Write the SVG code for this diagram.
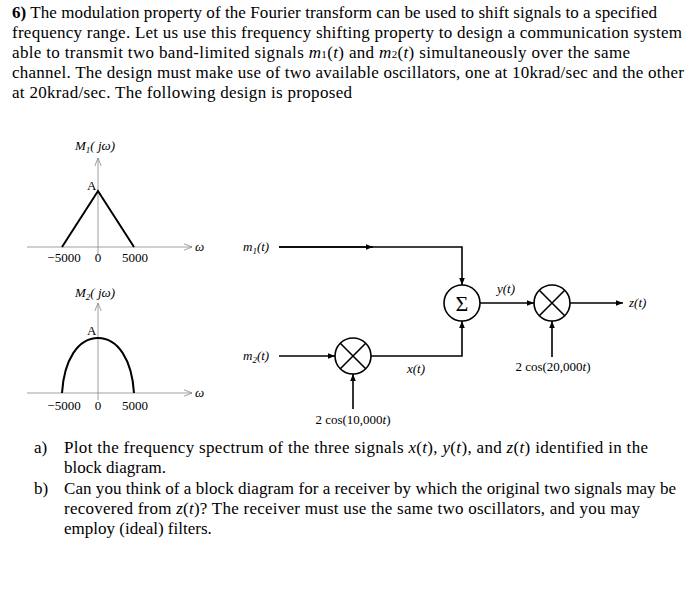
<svg xmlns="http://www.w3.org/2000/svg" width="700" height="597" viewBox="0 0 700 597">
<style>
text{font-family:"Liberation Serif","Times New Roman",Times,serif;fill:#000}
.t{font-size:17px}
.s{font-size:13px}
.i{font-style:italic}
.ln{stroke:#000;stroke-width:1.6;fill:none}
.ax{stroke:#888;stroke-width:0.8;fill:none}
.cv{stroke:#000;stroke-width:2;fill:none}
</style>
<defs>
<marker id="a" viewBox="0 0 10 10" refX="10" refY="5" markerWidth="7" markerHeight="7" orient="auto" markerUnits="userSpaceOnUse"><path d="M0,1L10,5L0,9z" fill="#000"/></marker>
<marker id="o" viewBox="0 0 10 10" refX="10" refY="5" markerWidth="8" markerHeight="8" orient="auto" markerUnits="userSpaceOnUse"><path d="M0,1L10,5L0,9" fill="none" stroke="#888"/></marker>
</defs>
<rect width="700" height="597" fill="#fff"/>
<g id="question">
<text class="t" x="12" y="18" textLength="645"><tspan font-weight="bold">6)</tspan> The modulation property of the Fourier transform can be used to shift signals to a specified</text>
<text class="t" x="12" y="38" textLength="670">frequency range.  Let us use this frequency shifting property to design a communication system</text>
<text class="t" x="12" y="58" textLength="618">able to transmit two band-limited signals <tspan class="i">m</tspan><tspan font-size="11">1</tspan>(<tspan class="i">t</tspan>) and <tspan class="i">m</tspan><tspan font-size="11">2</tspan>(<tspan class="i">t</tspan>) simultaneously over the same</text>
<text class="t" x="12" y="78" textLength="672">channel.   The design must make use of two available oscillators, one at 10krad/sec and the other</text>
<text class="t" x="12" y="98" textLength="340">at 20krad/sec.   The following design is proposed</text>
</g>
<g id="plot1">
<line class="ax" x1="27" y1="247" x2="192" y2="247" marker-end="url(#o)"/>
<line class="ax" x1="98" y1="256" x2="98" y2="158" marker-end="url(#o)"/>
<polyline class="cv" points="62,247 98,191 134,247"/>
<text class="s i" x="75" y="150">M<tspan font-size="9" dy="3">1</tspan><tspan dy="-3">( jω)</tspan></text>
<text class="s" x="87" y="190">A</text>
<text class="s" x="195" y="251" font-style="italic">ω</text>
<text class="s" x="64" y="262" text-anchor="middle">−5000</text>
<text class="s" x="98" y="262" text-anchor="middle">0</text>
<text class="s" x="135" y="262" text-anchor="middle">5000</text>
</g>
<g id="plot2">
<line class="ax" x1="27" y1="393" x2="192" y2="393" marker-end="url(#o)"/>
<line class="ax" x1="98" y1="400" x2="98" y2="303" marker-end="url(#o)"/>
<path class="cv" d="M62,393 C64,360 78,338 98,338 C118,338 132,360 134,393"/>
<text class="s i" x="75" y="297">M<tspan font-size="9" dy="3">2</tspan><tspan dy="-3">( jω)</tspan></text>
<text class="s" x="87" y="335">A</text>
<text class="s" x="195" y="397" font-style="italic">ω</text>
<text class="s" x="64" y="410" text-anchor="middle">−5000</text>
<text class="s" x="98" y="410" text-anchor="middle">0</text>
<text class="s" x="135" y="410" text-anchor="middle">5000</text>
</g>
<g id="sum"><circle class="ln" cx="462" cy="303" r="18"/><text x="462" y="311" font-size="22" text-anchor="middle">Σ</text></g>
<g id="mult1"><circle class="ln" cx="353" cy="356" r="18"/><path class="ln" d="M340.3,343.3L365.7,368.7M365.7,343.3L340.3,368.7"/></g>
<g id="mult2"><circle class="ln" cx="552" cy="303" r="18"/><path class="ln" d="M539.3,290.3L564.7,315.7M564.7,290.3L539.3,315.7"/></g>
<g id="labels">
<text class="s i" x="243" y="251">m<tspan font-size="9" dy="3">1</tspan><tspan dy="-3">(t)</tspan></text>
<text class="s i" x="243" y="360">m<tspan font-size="9" dy="3">2</tspan><tspan dy="-3">(t)</tspan></text>
<text class="s i" x="416" y="373" text-anchor="middle">x(t)</text>
<text class="s i" x="506" y="293" text-anchor="middle">y(t)</text>
<text class="s i" x="629" y="307">z(t)</text>
<text class="s" x="553" y="371" text-anchor="middle">2 cos(20,000<tspan font-style="italic">t</tspan>)</text>
<text class="s" x="353" y="424" text-anchor="middle">2 cos(10,000<tspan font-style="italic">t</tspan>)</text>
</g>
<g id="connectors">
<path class="ln" d="M279,247H462V285" marker-end="url(#a)"/>
<path class="ln" d="M279,247H373" marker-end="url(#a)"/>
<path class="ln" d="M279,356H335" marker-end="url(#a)"/>
<path class="ln" d="M371,356H462V321" marker-end="url(#a)"/>
<path class="ln" d="M480,303H534" marker-end="url(#a)"/>
<path class="ln" d="M570,303H623" marker-end="url(#a)"/>
<path class="ln" d="M552,357V321" marker-end="url(#a)"/>
<path class="ln" d="M353,409V374" marker-end="url(#a)"/>
</g>
<g id="parts">
<text class="t" x="34" y="453">a)</text>
<text class="t" x="64" y="453" textLength="584">Plot the frequency spectrum of the three signals <tspan class="i">x</tspan>(<tspan class="i">t</tspan>), <tspan class="i">y</tspan>(<tspan class="i">t</tspan>), and <tspan class="i">z</tspan>(<tspan class="i">t</tspan>) identified in the</text>
<text class="t" x="64" y="473">block diagram.</text>
<text class="t" x="34" y="494">b)</text>
<text class="t" x="64" y="494" textLength="612">Can you think of a block diagram for a receiver by which the original two signals may be</text>
<text class="t" x="64" y="514" textLength="576">recovered from <tspan class="i">z</tspan>(<tspan class="i">t</tspan>)?   The receiver must use the same two oscillators, and you may</text>
<text class="t" x="64" y="534">employ (ideal) filters.</text>
</g>
</svg>
